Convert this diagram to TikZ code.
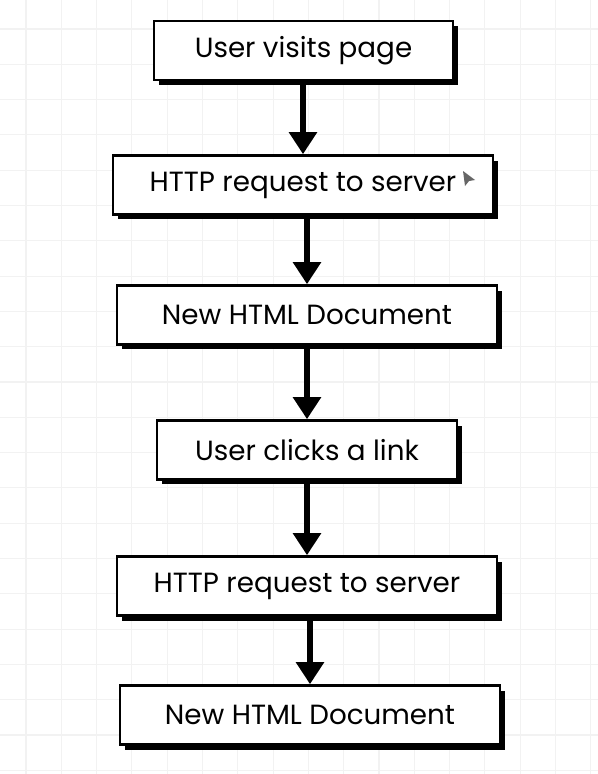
\documentclass[tikz,border=0pt]{standalone}
\usepackage{fontspec}
\setmainfont{Poppins}
\usetikzlibrary{arrows.meta,shadows}

\begin{document}
\begin{tikzpicture}[x=0.02cm,y=-0.02cm,
    step box/.style={draw, line width=1.5pt, fill=white, inner sep=0pt,
        minimum height=1.18cm, font=\fontsize{15.8}{18}\selectfont,
        drop shadow={shadow xshift=0.1cm, shadow yshift=-0.1cm, fill=black, opacity=1}},
    flow/.style={line width=3.2pt, -{Triangle[width=0.54cm, length=0.44cm]}},
    gridline/.style={black!5, line width=0.6pt}]
                        \useasboundingbox (0,0) rectangle (598,774);
                        \fill [white] (0,0) rectangle (598,774);
                        \foreach \k in {0,...,16} \draw [gridline] (26+35.3*\k,0) -- (26+35.3*\k,774);
                        \foreach \k in {0,...,21} \draw [gridline] (0,29+35.3*\k) -- (598,29+35.3*\k);

                        \node (visit) at (303.5,50.5) [step box, minimum width=5.98cm] {User visits page};
                        \node (req1) at (303,185) [step box, minimum width=7.6cm] {HTTP request to server};
                        \node (doc1) at (307,315) [step box, minimum width=7.6cm] {New HTML Document};
                        \node (click) at (307,450) [step box, minimum width=6cm] {User clicks a link};
                        \node (req2) at (307,586) [step box, minimum width=7.6cm] {HTTP request to server};
                        \node (doc2) at (310,715) [step box, minimum width=7.6cm] {New HTML Document};

                    \draw [flow] (visit.south -| req1) -- (req1.north);
                        \draw [flow] (req1.south -| doc1) -- (doc1.north);
                        \draw [flow] (doc1.south -| click) -- (click.north);
                        \draw [flow] (click.south -| req2) -- (req2.north);
                        \draw [flow] (req2.south -| doc2) -- (doc2.north);

                    % mouse pointer
                        \fill [black!60] (463,171) -- (475,180) -- (469,181) -- (465,186) -- cycle;
                    \end{tikzpicture}
\end{document}
